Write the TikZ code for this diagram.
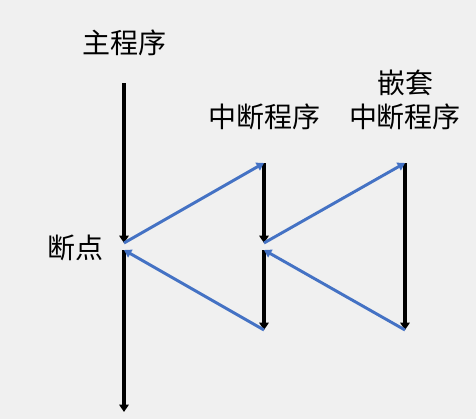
\documentclass[tikz,border=0pt]{standalone}
\usepackage{fontspec}
\newfontfamily\cjk{Noto Sans CJK SC}
\usetikzlibrary{arrows.meta}
\definecolor{bg}{RGB}{240,240,240}
\definecolor{lineblue}{RGB}{68,114,196}
\begin{document}
\begin{tikzpicture}[x=0.75pt,y=-0.75pt,
  flow/.style={line width=2.4pt,black,-{Triangle[length=5.5pt,width=7pt]}},
  jump/.style={line width=2.2pt,lineblue,-{Triangle[length=5.5pt,width=6.5pt]}},
  lbl/.style={font=\cjk\fontsize{21}{25}\selectfont,inner sep=0pt,align=center}]
\fill[bg] (0,0) rectangle (476,419);
\useasboundingbox (0,0) rectangle (476,419);
% labels
\node[lbl] (tmain) at (125,43) {主程序};
\node[lbl] (tint) at (265,117) {中断程序};
\node[lbl] (tnest) at (405,100) {嵌套\\中断程序};
\node[lbl] (tbp) at (75,248) {断点};
% coordinates
\coordinate (m0) at (124,83);
\coordinate (m1) at (124,243);
\coordinate (m2) at (124,250);
\coordinate (m3) at (124,412);
\coordinate (i0) at (264,163);
\coordinate (i1) at (264,243);
\coordinate (i2) at (264,250);
\coordinate (i3) at (264,330);
\coordinate (n0) at (405,163);
\coordinate (n1) at (405,330);
% black flows
\draw[flow] (m0) -- (m1);
\draw[flow] (m2) -- (m3);
\draw[flow] (i0) -- (i1);
\draw[flow] (i2) -- (i3);
\draw[flow] (n0) -- (n1);
% blue jumps
\draw[jump] (m1) -- (i0);
\draw[jump] (i3) -- (m2);
\draw[jump] (i1) -- (n0);
\draw[jump] (n1) -- (i2);
\end{tikzpicture}
\end{document}
